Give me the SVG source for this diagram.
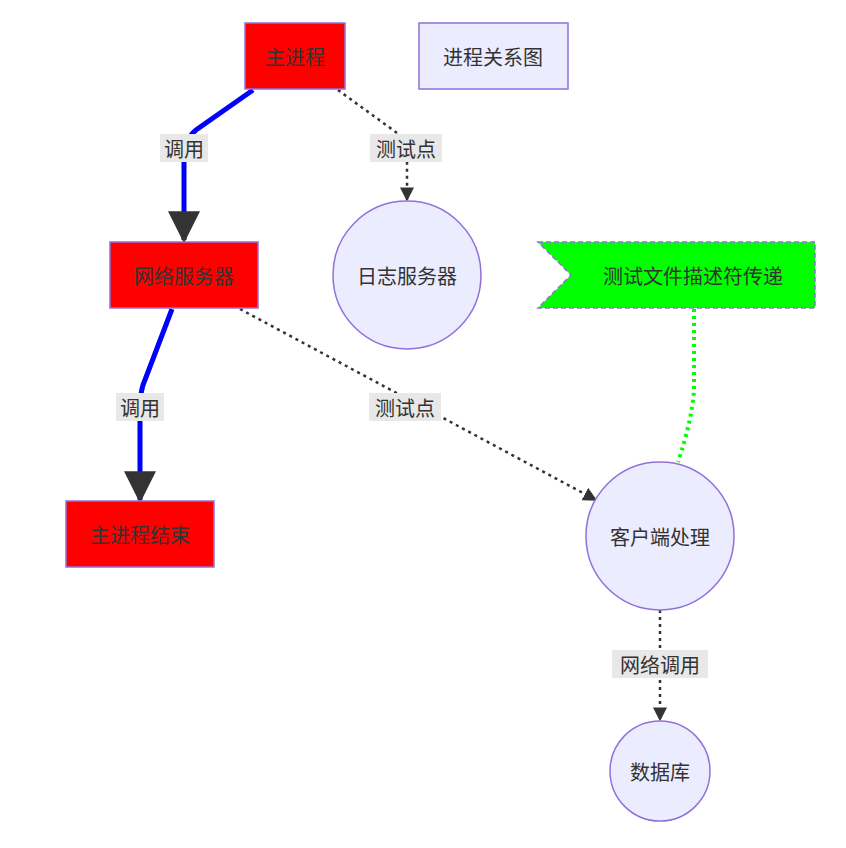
<svg xmlns="http://www.w3.org/2000/svg" width="846" height="848" viewBox="0 0 846 848">
<style>
text{font-family:"Noto Sans CJK SC","Noto Sans",sans-serif;font-size:20px;fill:#333;text-anchor:middle;dominant-baseline:central}
.red{fill:#ff0000;stroke:#9370DB;stroke-width:1.5}
.def{fill:#ECECFF;stroke:#9370DB;stroke-width:1.5}
.blue{fill:none;stroke:#0000ff;stroke-width:5}
.dot{fill:none;stroke:#333;stroke-width:2.5;stroke-dasharray:3,4}
.lbl{fill:#e8e8e8}
</style>
<defs>
<marker id="big" markerWidth="10" markerHeight="10" refX="9" refY="5" orient="auto" markerUnits="userSpaceOnUse" viewBox="0 0 10 10"><path d="M0,0L10,5L0,10z" fill="#333"/></marker>
<marker id="bigb" viewBox="0 0 10 10" refX="9" refY="5" markerWidth="32" markerHeight="32" orient="auto" markerUnits="userSpaceOnUse"><path d="M0,0L10,5L0,10z" fill="#333"/></marker>
<marker id="sm" viewBox="0 0 10 10" refX="9" refY="5" markerWidth="14" markerHeight="14" orient="auto" markerUnits="userSpaceOnUse"><path d="M0,0L10,5L0,10z" fill="#333"/></marker>
</defs>
<g id="edges">
<path class="blue" d="M253,90 L196,130 Q184,140 184,160 L184,240" marker-end="url(#bigb)"/>
<path class="dot" d="M338,90 L397,133 Q407,140 407,155 L407,200" marker-end="url(#sm)"/>
<path class="blue" d="M172,309 L143,385 Q140,395 140,410 L140,500" marker-end="url(#bigb)"/>
<path class="dot" d="M240,309 L596,500" marker-end="url(#sm)"/>
<path d="M694,309 L694,390 Q692,420 678,462" fill="none" stroke="#00ff00" stroke-width="4" stroke-dasharray="3,4"/>
<path class="dot" d="M660,610 L660,720" marker-end="url(#sm)"/>
<rect class="lbl" x="160" y="134" width="48" height="28"/><text x="184" y="148">调用</text>
<rect class="lbl" x="370" y="134" width="72" height="28"/><text x="406" y="148">测试点</text>
<rect class="lbl" x="116" y="393" width="48" height="28"/><text x="140" y="407">调用</text>
<rect class="lbl" x="369" y="393" width="72" height="28"/><text x="405" y="407">测试点</text>
<rect class="lbl" x="612" y="650" width="96" height="28"/><text x="660" y="664">网络调用</text>
</g>
<g id="n1"><rect class="red" x="245" y="23" width="100" height="66"/><text x="295" y="56">主进程</text></g>
<g id="n2"><rect class="def" x="419" y="23" width="149" height="66"/><text x="493" y="56">进程关系图</text></g>
<g id="n3"><rect class="red" x="110" y="242" width="148" height="66"/><text x="184" y="275">网络服务器</text></g>
<g id="n4"><circle class="def" cx="407" cy="275" r="74"/><text x="407" y="275">日志服务器</text></g>
<g id="n5"><path d="M538,242 L815,242 L815,308 L538,308 L571,275 Z" fill="#00ff00" stroke="#9370DB" stroke-width="1.5" stroke-dasharray="5,3"/><text x="693" y="275">测试文件描述符传递</text></g>
<g id="n6"><rect class="red" x="66" y="501" width="148" height="66"/><text x="140" y="534">主进程结束</text></g>
<g id="n7"><circle class="def" cx="660" cy="536" r="74"/><text x="660" y="536">客户端处理</text></g>
<g id="n8"><circle class="def" cx="660" cy="771" r="50"/><text x="660" y="771">数据库</text></g>
</svg>
